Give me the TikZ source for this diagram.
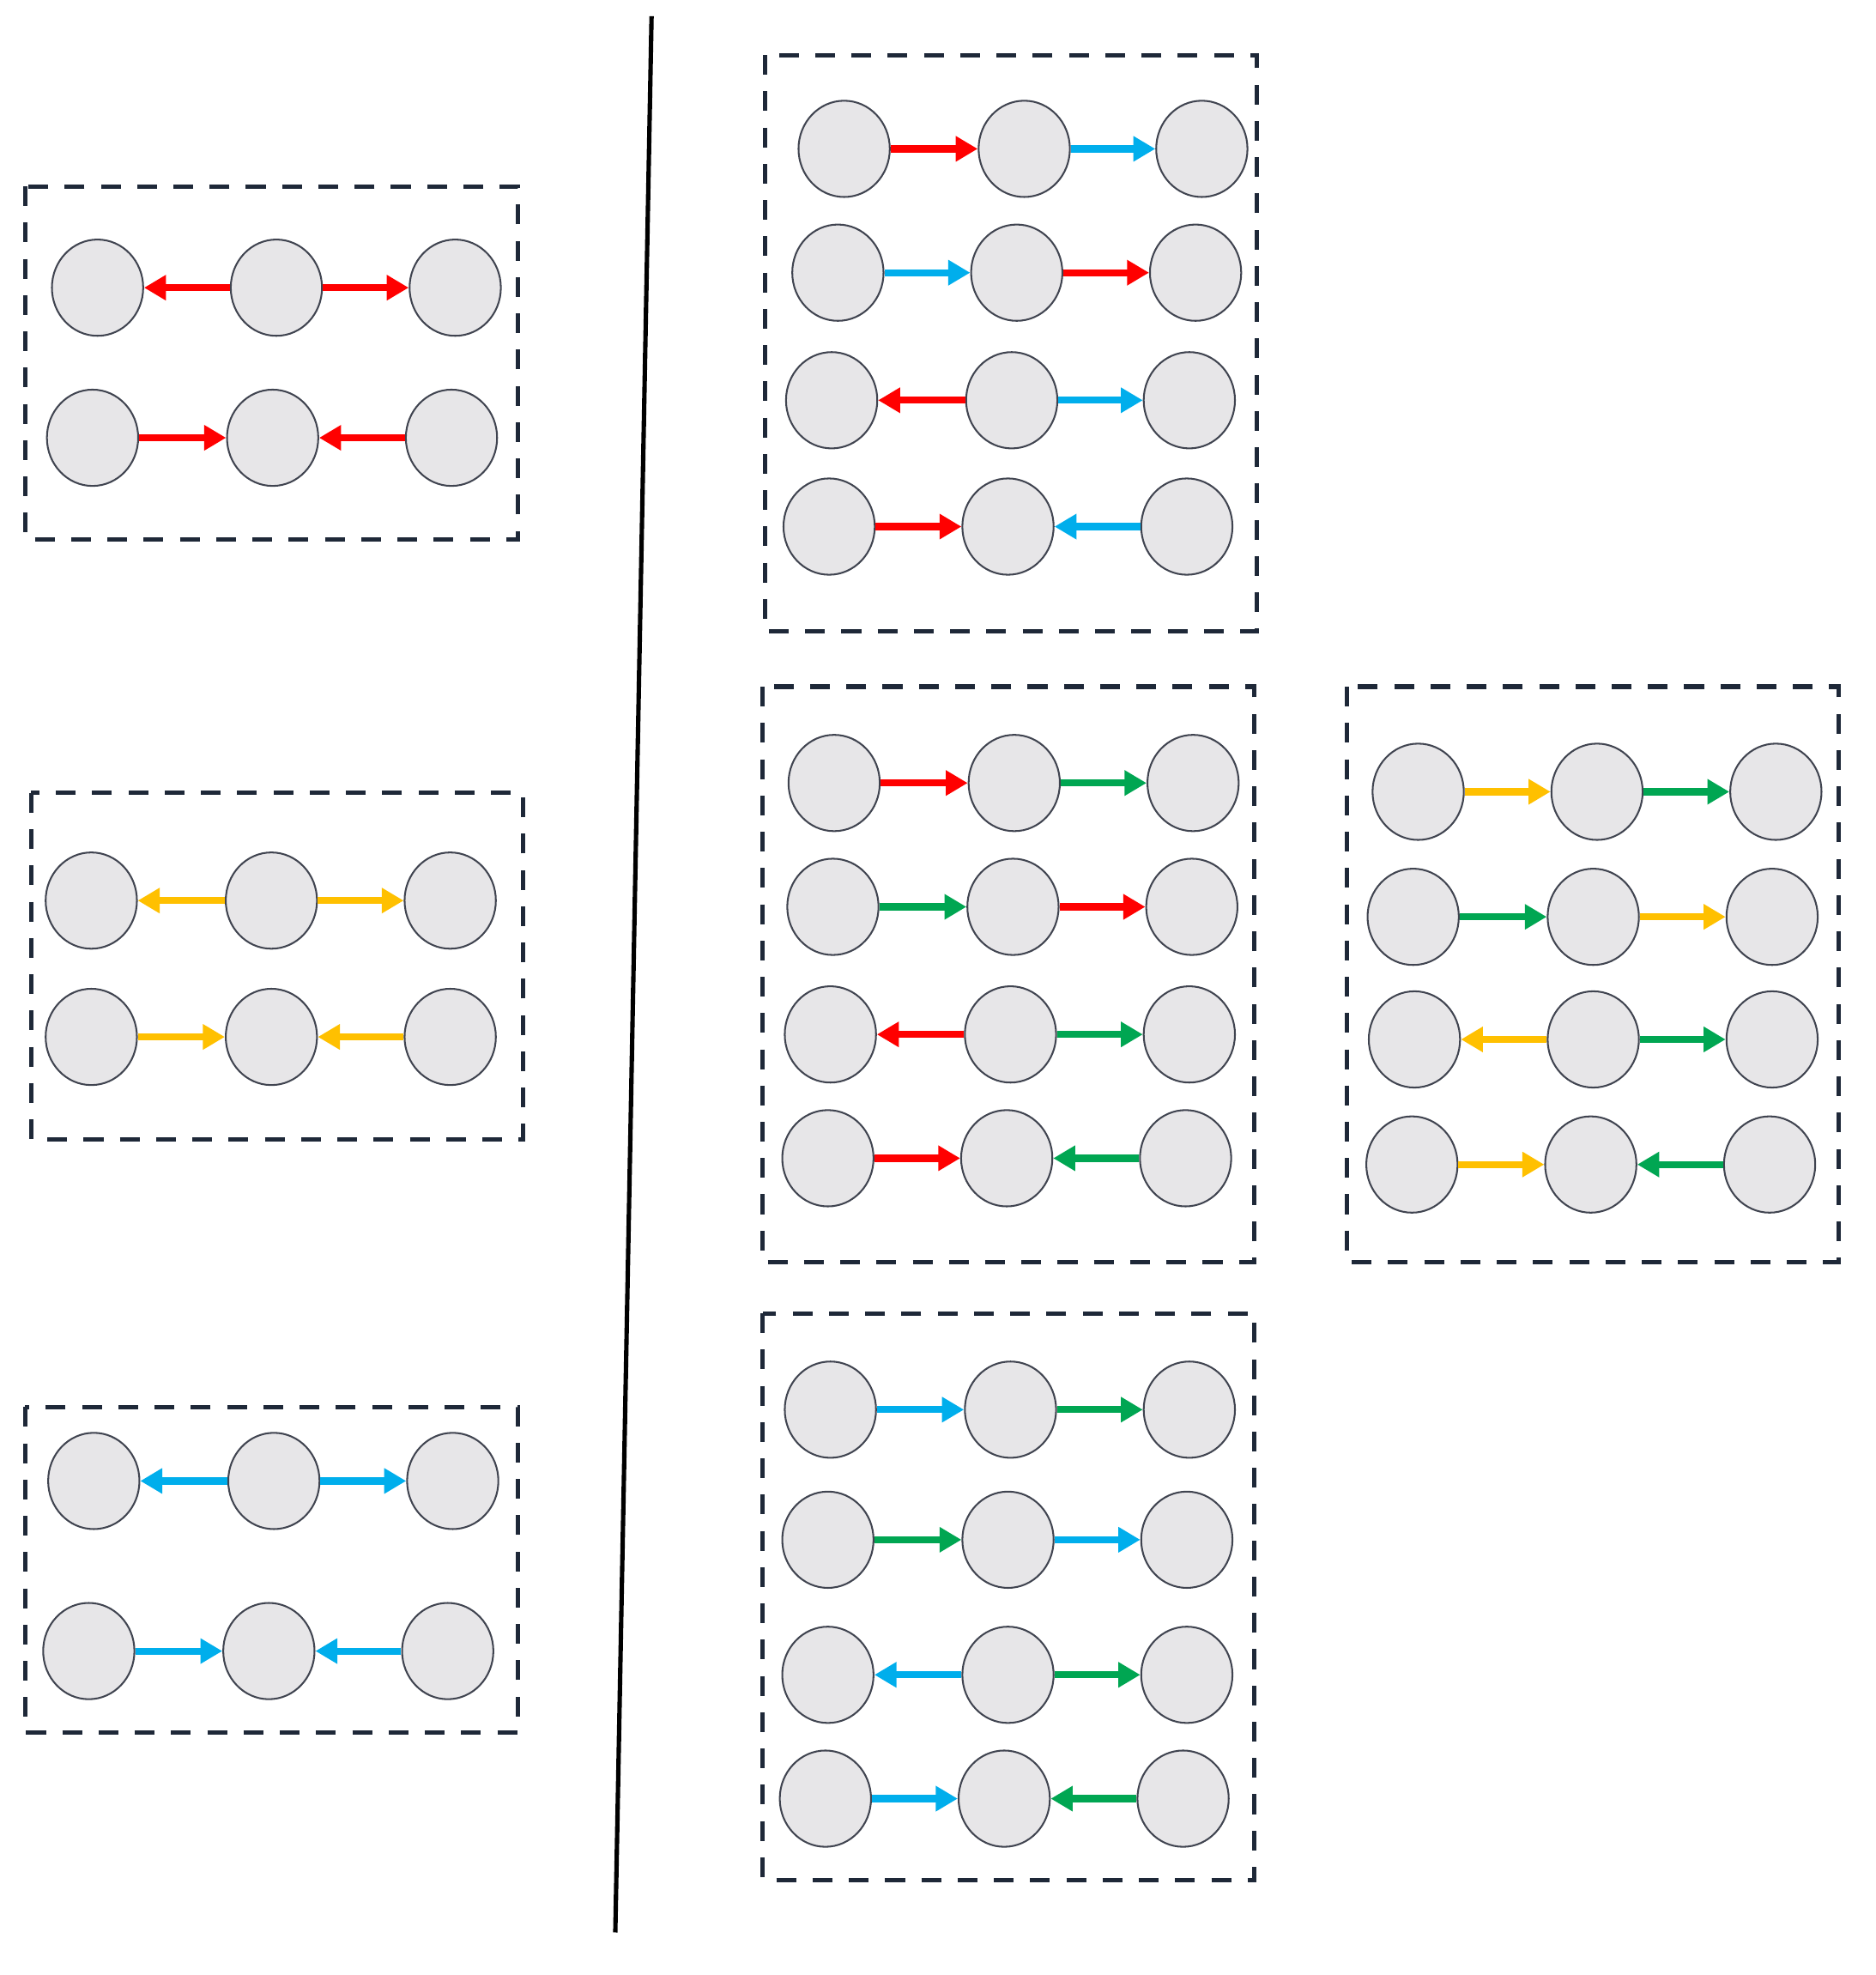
\documentclass[tikz,border=0pt]{standalone}
\usetikzlibrary{arrows.meta,shapes.geometric}
\definecolor{cred}{RGB}{255,0,0}
\definecolor{cyel}{RGB}{255,192,0}
\definecolor{cblu}{RGB}{0,174,236}
\definecolor{cgrn}{RGB}{0,166,82}
\definecolor{bubfill}{RGB}{231,230,232}
\definecolor{bubline}{RGB}{64,68,80}
\definecolor{boxline}{RGB}{30,40,56}
\tikzset{
  bub/.style={ellipse,draw=bubline,fill=bubfill,line width=0.8pt,minimum width=1.46cm,minimum height=1.54cm,inner sep=0pt},
  fw/.style={-{Triangle[length=10pt,width=11pt]},line width=3.2pt},
  bw/.style={{Triangle[length=10pt,width=11pt]}-,line width=3.2pt},
  dbox/.style={draw=boxline,line width=2pt,dash pattern=on 9pt off 7.5pt},
}
\newcommand{\trio}[9]{%
  \node[bub] (#1a) at (#3,#2) {};
  \node[bub] (#1b) at (#4,#2) {};
  \node[bub] (#1c) at (#5,#2) {};
  \draw[#7,#6] (#1a) -- (#1b);
  \draw[#9,#8] (#1b) -- (#1c);}
\begin{document}
\begin{tikzpicture}[x=0.02cm,y=-0.02cm]
\useasboundingbox (0,0) rectangle (1500,1579);
% divider
\coordinate (dtop) at (521,13);
\coordinate (dbot) at (492,1545);
\draw[line width=2pt,black] (dtop) -- (dbot);
% boxes
\draw[dbox] (20,149) rectangle (414,431);
\draw[dbox] (25,634) rectangle (418,911);
\draw[dbox] (20,1125) rectangle (414,1385);
\draw[dbox] (612,44) rectangle (1005,505);
\draw[dbox] (610,549) rectangle (1003,1009);
\draw[dbox] (610,1050) rectangle (1003,1503);
\draw[dbox] (1077,549) rectangle (1470,1009);
% left column
\trio{LA}{230}{78}{221}{364}{cred}{bw}{cred}{fw}
\trio{LB}{350}{74}{218}{361}{cred}{fw}{cred}{bw}
\trio{LC}{720}{73}{217}{360}{cyel}{bw}{cyel}{fw}
\trio{LD}{829}{73}{217}{360}{cyel}{fw}{cyel}{bw}
\trio{LE}{1184}{75}{219}{362}{cblu}{bw}{cblu}{fw}
\trio{LF}{1320}{71}{215}{358}{cblu}{fw}{cblu}{bw}
% middle top
\trio{MA}{119}{675}{819}{961}{cred}{fw}{cblu}{fw}
\trio{MB}{218}{670}{813}{956}{cblu}{fw}{cred}{fw}
\trio{MC}{320}{665}{809}{951}{cred}{bw}{cblu}{fw}
\trio{MD}{421}{663}{806}{949}{cred}{fw}{cblu}{bw}
% middle centre
\trio{ME}{626}{667}{811}{954}{cred}{fw}{cgrn}{fw}
\trio{MF}{725}{666}{810}{953}{cgrn}{fw}{cred}{fw}
\trio{MG}{827}{664}{808}{951}{cred}{bw}{cgrn}{fw}
\trio{MH}{926}{662}{805}{948}{cred}{fw}{cgrn}{bw}
% middle bottom
\trio{MI}{1127}{664}{808}{951}{cblu}{fw}{cgrn}{fw}
\trio{MJ}{1231}{662}{806}{949}{cgrn}{fw}{cblu}{fw}
\trio{MK}{1339}{662}{806}{949}{cblu}{bw}{cgrn}{fw}
\trio{ML}{1438}{660}{803}{946}{cblu}{fw}{cgrn}{bw}
% right
\trio{RA}{633}{1134}{1277}{1420}{cyel}{fw}{cgrn}{fw}
\trio{RB}{733}{1130}{1274}{1417}{cgrn}{fw}{cyel}{fw}
\trio{RC}{831}{1131}{1274}{1417}{cyel}{bw}{cgrn}{fw}
\trio{RD}{931}{1129}{1272}{1415}{cyel}{fw}{cgrn}{bw}
\end{tikzpicture}
\end{document}
